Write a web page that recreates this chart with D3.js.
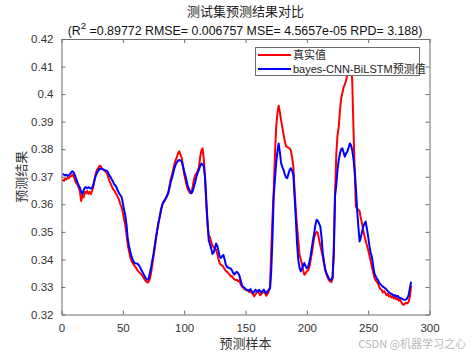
<!DOCTYPE html>
<html><head><meta charset="utf-8">
<script src="https://cdn.jsdelivr.net/npm/d3@7"></script>
<style>
html,body{margin:0;padding:0;background:#fff;}
svg{display:block;}
</style></head>
<body><svg id="c" width="474" height="355"></svg>
<script>
const titleText = "测试集预测结果对比";
const statsParts = ["(R", "2", " =0.89772 RMSE= 0.006757 MSE= 4.5657e-05 RPD= 3.188)"];
const xLabel = "预测样本";
const yLabel = "预测结果";
const seriesNames = ["真实值", "bayes-CNN-BiLSTM预测值"];
const xTicks = [0, 50, 100, 150, 200, 250, 300];
const yTicks = [0.32, 0.33, 0.34, 0.35, 0.36, 0.37, 0.38, 0.39, 0.4, 0.41, 0.42];
const watermark = "CSDN @机器学习之心";

const actual = [
0.3690,0.3685,0.3693,0.3690,0.3697,0.3695,0.3700,0.3702,0.3708,0.3700,
0.3688,0.3677,0.3672,0.3660,0.3648,0.3612,0.3632,0.3625,0.3645,0.3640,
0.3648,0.3638,0.3645,0.3637,0.3650,0.3665,0.3690,0.3712,0.3725,0.3732,
0.3740,0.3738,0.3730,0.3727,0.3722,0.3718,0.3713,0.3700,0.3685,0.3676,
0.3665,0.3655,0.3650,0.3642,0.3635,0.3625,0.3615,0.3600,0.3590,0.3570,
0.3545,0.3525,0.3490,0.3455,0.3430,0.3410,0.3395,0.3388,0.3380,0.3374,
0.3368,0.3360,0.3355,0.3350,0.3346,0.3340,0.3333,0.3326,0.3320,0.3316,
0.3318,0.3330,0.3350,0.3380,0.3410,0.3440,0.3475,0.3505,0.3535,0.3550,
0.3580,0.3595,0.3605,0.3612,0.3620,0.3630,0.3640,0.3665,0.3690,0.3705,
0.3725,0.3745,0.3760,0.3770,0.3785,0.3792,0.3780,0.3768,0.3740,0.3710,
0.3690,0.3670,0.3655,0.3645,0.3640,0.3645,0.3665,0.3690,0.3705,0.3712,
0.3720,0.3735,0.3770,0.3795,0.3803,0.3765,0.3700,0.3600,0.3530,0.3490,
0.3480,0.3465,0.3450,0.3445,0.3440,0.3435,0.3420,0.3400,0.3385,0.3380,
0.3378,0.3372,0.3365,0.3358,0.3355,0.3350,0.3345,0.3338,0.3340,0.3332,
0.3328,0.3325,0.3326,0.3320,0.3325,0.3310,0.3302,0.3298,0.3292,0.3290,
0.3288,0.3286,0.3282,0.3285,0.3278,0.3275,0.3266,0.3272,0.3280,0.3283,
0.3278,0.3270,0.3275,0.3280,0.3282,0.3277,0.3268,0.3275,0.3285,0.3300,
0.3435,0.3550,0.3652,0.3780,0.3880,0.3930,0.3958,0.3935,0.3906,0.3880,
0.3855,0.3830,0.3812,0.3808,0.3805,0.3803,0.3795,0.3770,0.3737,0.3652,
0.3580,0.3520,0.3470,0.3420,0.3400,0.3385,0.3360,0.3344,0.3350,0.3357,
0.3360,0.3370,0.3395,0.3420,0.3450,0.3480,0.3495,0.3500,0.3495,0.3470,
0.3450,0.3430,0.3410,0.3385,0.3360,0.3345,0.3335,0.3325,0.3320,0.3318,
0.3330,0.3450,0.3640,0.3780,0.3850,0.3880,0.3940,0.3985,0.4005,0.4025,
0.4035,0.4050,0.4070,0.4090,0.4120,0.4110,0.4050,0.3880,0.3720,0.3592,
0.3585,0.3580,0.3575,0.3550,0.3530,0.3505,0.3485,0.3468,0.3450,0.3434,
0.3415,0.3395,0.3374,0.3355,0.3335,0.3325,0.3318,0.3313,0.3300,0.3292,
0.3289,0.3280,0.3285,0.3278,0.3270,0.3275,0.3265,0.3270,0.3262,0.3265,
0.3258,0.3262,0.3255,0.3258,0.3250,0.3253,0.3245,0.3238,0.3235,0.3240,
0.3242,0.3241,0.3245,0.3265,0.3305
];

const predicted = [
0.3710,0.3708,0.3705,0.3707,0.3703,0.3705,0.3710,0.3716,0.3720,0.3715,
0.3705,0.3692,0.3680,0.3668,0.3660,0.3645,0.3638,0.3650,0.3660,0.3662,
0.3658,0.3662,0.3660,0.3657,0.3660,0.3672,0.3690,0.3705,0.3715,0.3722,
0.3728,0.3730,0.3728,0.3726,0.3725,0.3723,0.3722,0.3715,0.3705,0.3698,
0.3690,0.3682,0.3672,0.3668,0.3660,0.3648,0.3640,0.3633,0.3626,0.3605,
0.3580,0.3560,0.3525,0.3475,0.3450,0.3430,0.3412,0.3400,0.3390,0.3386,
0.3385,0.3384,0.3380,0.3372,0.3362,0.3355,0.3345,0.3338,0.3330,0.3326,
0.3330,0.3350,0.3370,0.3395,0.3420,0.3450,0.3478,0.3505,0.3530,0.3555,
0.3575,0.3597,0.3608,0.3615,0.3622,0.3632,0.3640,0.3660,0.3680,0.3695,
0.3712,0.3730,0.3743,0.3752,0.3758,0.3761,0.3758,0.3755,0.3738,0.3720,
0.3705,0.3685,0.3665,0.3655,0.3645,0.3640,0.3648,0.3665,0.3680,0.3700,
0.3715,0.3725,0.3738,0.3748,0.3745,0.3737,0.3700,0.3620,0.3540,0.3470,
0.3455,0.3440,0.3420,0.3425,0.3440,0.3458,0.3450,0.3430,0.3410,0.3405,
0.3412,0.3416,0.3400,0.3380,0.3373,0.3370,0.3368,0.3367,0.3360,0.3350,
0.3345,0.3352,0.3355,0.3350,0.3342,0.3325,0.3308,0.3301,0.3297,0.3293,
0.3290,0.3289,0.3287,0.3292,0.3285,0.3278,0.3282,0.3290,0.3286,0.3283,
0.3290,0.3284,0.3280,0.3286,0.3290,0.3282,0.3278,0.3285,0.3290,0.3295,
0.3360,0.3480,0.3630,0.3690,0.3750,0.3790,0.3821,0.3790,0.3750,0.3735,
0.3725,0.3710,0.3698,0.3695,0.3710,0.3725,0.3731,0.3722,0.3707,0.3630,
0.3550,0.3460,0.3399,0.3370,0.3357,0.3365,0.3378,0.3387,0.3375,0.3368,
0.3372,0.3390,0.3411,0.3440,0.3470,0.3495,0.3525,0.3544,0.3540,0.3530,
0.3520,0.3480,0.3423,0.3390,0.3365,0.3350,0.3340,0.3330,0.3326,0.3326,
0.3335,0.3420,0.3630,0.3670,0.3725,0.3760,0.3785,0.3800,0.3803,0.3788,
0.3773,0.3785,0.3791,0.3805,0.3821,0.3815,0.3797,0.3765,0.3724,0.3660,
0.3580,0.3520,0.3465,0.3480,0.3500,0.3519,0.3530,0.3537,0.3510,0.3483,
0.3450,0.3425,0.3410,0.3380,0.3350,0.3340,0.3330,0.3325,0.3315,0.3310,
0.3305,0.3301,0.3298,0.3295,0.3290,0.3285,0.3280,0.3277,0.3275,0.3272,
0.3268,0.3270,0.3265,0.3268,0.3262,0.3260,0.3259,0.3256,0.3254,0.3253,
0.3255,0.3260,0.3271,0.3295,0.3319
];

const W = 474, H = 355;
const m = {left: 61.5, right: 429.5, top: 39, bottom: 314.5};
const svg = d3.select("#c");
const x = d3.scaleLinear().domain([0, 300]).range([m.left, m.right]);
const y = d3.scaleLinear().domain([0.32, 0.42]).range([m.bottom, m.top]);

const sansFont = "Liberation Sans, Arial, sans-serif";
const cjkFont = "Noto Sans CJK SC, sans-serif";
const axisColor = "#6e6e6e";
const textColor = "#333";

// clip
svg.append("defs").append("clipPath").attr("id", "clip")
  .append("rect").attr("x", m.left).attr("y", m.top)
  .attr("width", m.right - m.left).attr("height", m.bottom - m.top);

// axes
const fmtY = d => d3.format(".2f")(d).replace(/0$/, "");
const gx = svg.append("g").attr("transform", `translate(0,${m.bottom})`)
  .call(d3.axisBottom(x).tickValues(xTicks).tickSizeInner(-4).tickSizeOuter(0).tickPadding(9).tickFormat(d3.format("d")));
const gxt = svg.append("g").attr("transform", `translate(0,${m.top})`)
  .call(d3.axisTop(x).tickValues(xTicks).tickSizeInner(-4).tickSizeOuter(0).tickFormat(""));
const gy = svg.append("g").attr("transform", `translate(${m.left},0)`)
  .call(d3.axisLeft(y).tickValues(yTicks).tickSizeInner(-4).tickSizeOuter(0).tickPadding(8).tickFormat(fmtY));
const gyr = svg.append("g").attr("transform", `translate(${m.right},0)`)
  .call(d3.axisRight(y).tickValues(yTicks).tickSizeInner(-4).tickSizeOuter(0).tickFormat(""));
[gx, gxt, gy, gyr].forEach(g => {
  g.select(".domain").attr("stroke", axisColor).attr("stroke-width", 1);
  g.selectAll(".tick line").attr("stroke", axisColor);
  g.selectAll("text").attr("fill", textColor).attr("font-family", sansFont).attr("font-size", 11.5);
});
gx.selectAll("text").attr("dy", "0.71em");

// lines
const line = d3.line().x((d, i) => x(i + 1)).y(d => y(d));
const plot = svg.append("g").attr("clip-path", "url(#clip)");
plot.append("path").datum(actual).attr("d", line)
  .attr("fill", "none").attr("stroke", "#ff0000").attr("stroke-width", 2).attr("stroke-linejoin", "round");
plot.append("path").datum(predicted).attr("d", line)
  .attr("fill", "none").attr("stroke", "#0000ff").attr("stroke-width", 2).attr("stroke-linejoin", "round");

// titles
svg.append("text").attr("x", 245.5).attr("y", 15.5).attr("text-anchor", "middle")
  .attr("font-family", cjkFont).attr("font-size", 13).attr("fill", "#222").text(titleText);
const st = svg.append("text").attr("x", 245).attr("y", 34.5).attr("text-anchor", "middle")
  .attr("font-family", sansFont).attr("font-size", 12.4).attr("fill", "#111");
st.append("tspan").text(statsParts[0]);
st.append("tspan").attr("dy", -6).attr("font-size", 9.5).text(statsParts[1]);
st.append("tspan").attr("dy", 6).text(statsParts[2]);

// axis labels
svg.append("text").attr("x", 245.5).attr("y", 348).attr("text-anchor", "middle")
  .attr("font-family", cjkFont).attr("font-size", 13).attr("fill", "#333").text(xLabel);
svg.append("text").attr("transform", `translate(26,${(m.top + m.bottom) / 2}) rotate(-90)`)
  .attr("text-anchor", "middle").attr("font-family", cjkFont).attr("font-size", 13).attr("fill", "#333").text(yLabel);

// legend
const lg = svg.append("g");
lg.append("rect").attr("x", 255.5).attr("y", 47.5).attr("width", 164).attr("height", 28)
  .attr("fill", "#fff").attr("stroke", axisColor).attr("stroke-width", 1);
const colors = ["#ff0000", "#0000ff"];
seriesNames.forEach((n, i) => {
  const yy = 55 + i * 14;
  lg.append("line").attr("x1", 258).attr("x2", 291).attr("y1", yy).attr("y2", yy)
    .attr("stroke", colors[i]).attr("stroke-width", 2);
  lg.append("text").attr("x", 293).attr("y", yy + 4)
    .attr("font-family", i === 0 ? cjkFont : sansFont + ", Noto Sans CJK SC").attr("font-size", 11)
    .attr("fill", "#222").text(n);
});

// watermark
svg.append("text").attr("x", 466).attr("y", 348).attr("text-anchor", "end")
  .attr("font-family", cjkFont).attr("font-size", 11).attr("fill", "#b8b8b8").text(watermark);
</script></body></html>
